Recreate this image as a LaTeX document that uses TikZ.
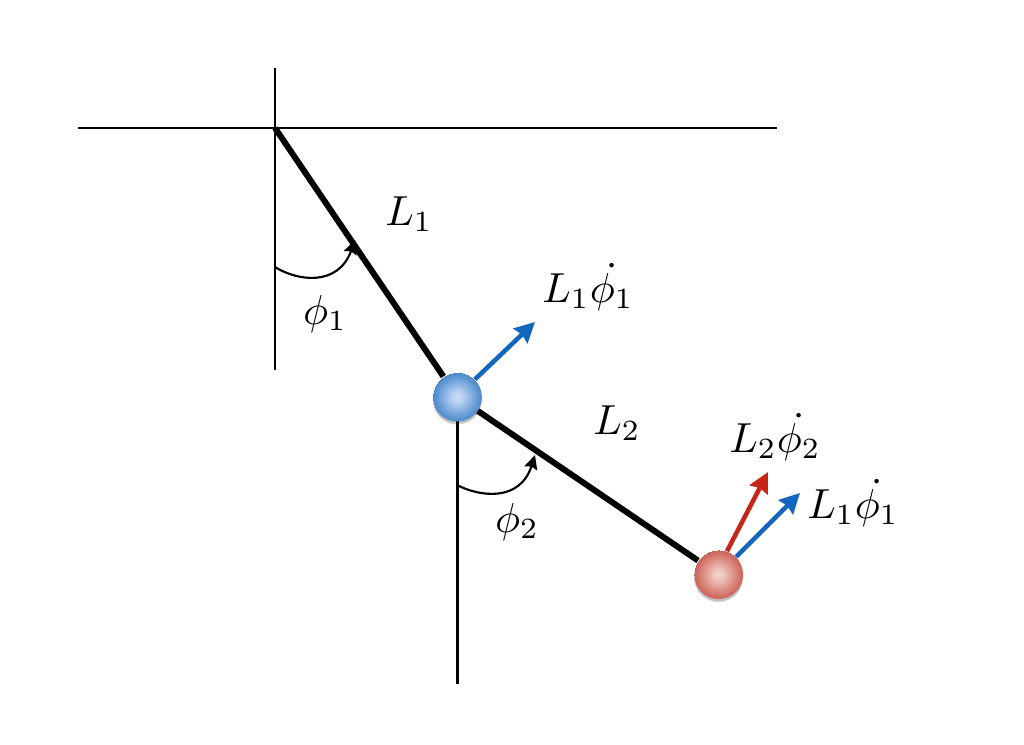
\documentclass[tikz,border=0pt]{standalone}
\usetikzlibrary{arrows.meta}
\definecolor{armblue}{RGB}{18,102,190}
\definecolor{armred}{RGB}{198,38,24}
\pgfdeclareradialshading{bluesphere}{\pgfpointorigin}{rgb(0bp)=(0.81,0.87,0.96); rgb(6bp)=(0.72,0.81,0.94); rgb(15bp)=(0.50,0.68,0.88); rgb(25bp)=(0.29,0.53,0.79)}
\pgfdeclareradialshading{redsphere}{\pgfpointorigin}{rgb(0bp)=(0.96,0.84,0.82); rgb(6bp)=(0.93,0.76,0.73); rgb(15bp)=(0.87,0.57,0.53); rgb(25bp)=(0.80,0.38,0.34)}
\newcommand{\bigmath}[1]{\scalebox{3.15}{$#1$}}
\newcommand{\dotphi}{\skew{8}{\dot}{\phi}}
\tikzset{
  x=0.75pt,y=-0.75pt,
  axis/.style={line width=1.9pt,black},
  rod/.style={line width=4.5pt,black},
  angle/.style={line width=1.6pt,black,-{Stealth[length=10.5pt,width=10pt,inset=1.5pt]}},
  vel/.style={line width=3.4pt,-{Stealth[length=15pt,width=15pt,inset=1.5pt]}},
  lab/.style={inner sep=0pt,anchor=center},
  bob/.style={circle,minimum size=36.8pt,inner sep=0pt},
  bluebob/.style={bob,shading=bluesphere},
  redbob/.style={bob,shading=redsphere},
  soft/.style={fill=black,opacity=0.13},
}
\begin{document}
\begin{tikzpicture}
\useasboundingbox (0,0) rectangle (1024,745);
\fill[white] (0,0) rectangle (1024,745);
\coordinate (hl) at (78,128);
\coordinate (hr) at (777,128);
\coordinate (vt) at (275,68);
\coordinate (vb) at (275,370);
\coordinate (pivot) at (275,128);
\coordinate (v2b) at (457.3,684);
\coordinate (c1s) at (275,267);
\coordinate (c1e) at (355,240);
\coordinate (c2s) at (457,485);
\coordinate (c2e) at (535,455);
\coordinate (b1tip) at (535,322);
\coordinate (r2tip) at (768,472);
\coordinate (b2tip) at (800,493);
\draw[axis] (hl) -- (hr);
\draw[axis] (vt) -- (vb);
\draw[axis] (457.3,420) -- (v2b);
\fill[soft] (457.3,399) circle[radius=18.6pt];
\fill[soft] (457.3,400.5) circle[radius=18.2pt];
\fill[soft] (718.5,576.5) circle[radius=18.6pt];
\fill[soft] (718.5,578) circle[radius=18.2pt];
\node[bluebob] (m1) at (457.3,397) {};
\node[redbob] (m2) at (718.5,574.5) {};
\draw[rod] (pivot) -- (m1);
\draw[rod] (m1) -- (m2);
\draw[vel,armblue] (m1.45) -- (b1tip);
\draw[vel,armred] (m2.70) -- (r2tip);
\draw[vel,armblue] (m2.45) -- (b2tip);
\draw[angle] (c1s) .. controls (297,281) and (338,287) .. (c1e);
\draw[angle] (c2s) .. controls (480,497) and (520,502) .. (c2e);
\node[lab] (l1) at (409,214) {\bigmath{L_1}};
\node[lab] (l2) at (617,423) {\bigmath{L_2}};
\node[lab] (p1) at (325,314) {\bigmath{\phi_1}};
\node[lab] (p2) at (517,522) {\bigmath{\phi_2}};
\node[lab] (v1) at (588,287) {\bigmath{L_1\dotphi_1}};
\node[lab] (v2) at (775,437) {\bigmath{L_2\dotphi_2}};
\node[lab] (v3) at (853,503) {\bigmath{L_1\dotphi_1}};
\end{tikzpicture}
\end{document}
